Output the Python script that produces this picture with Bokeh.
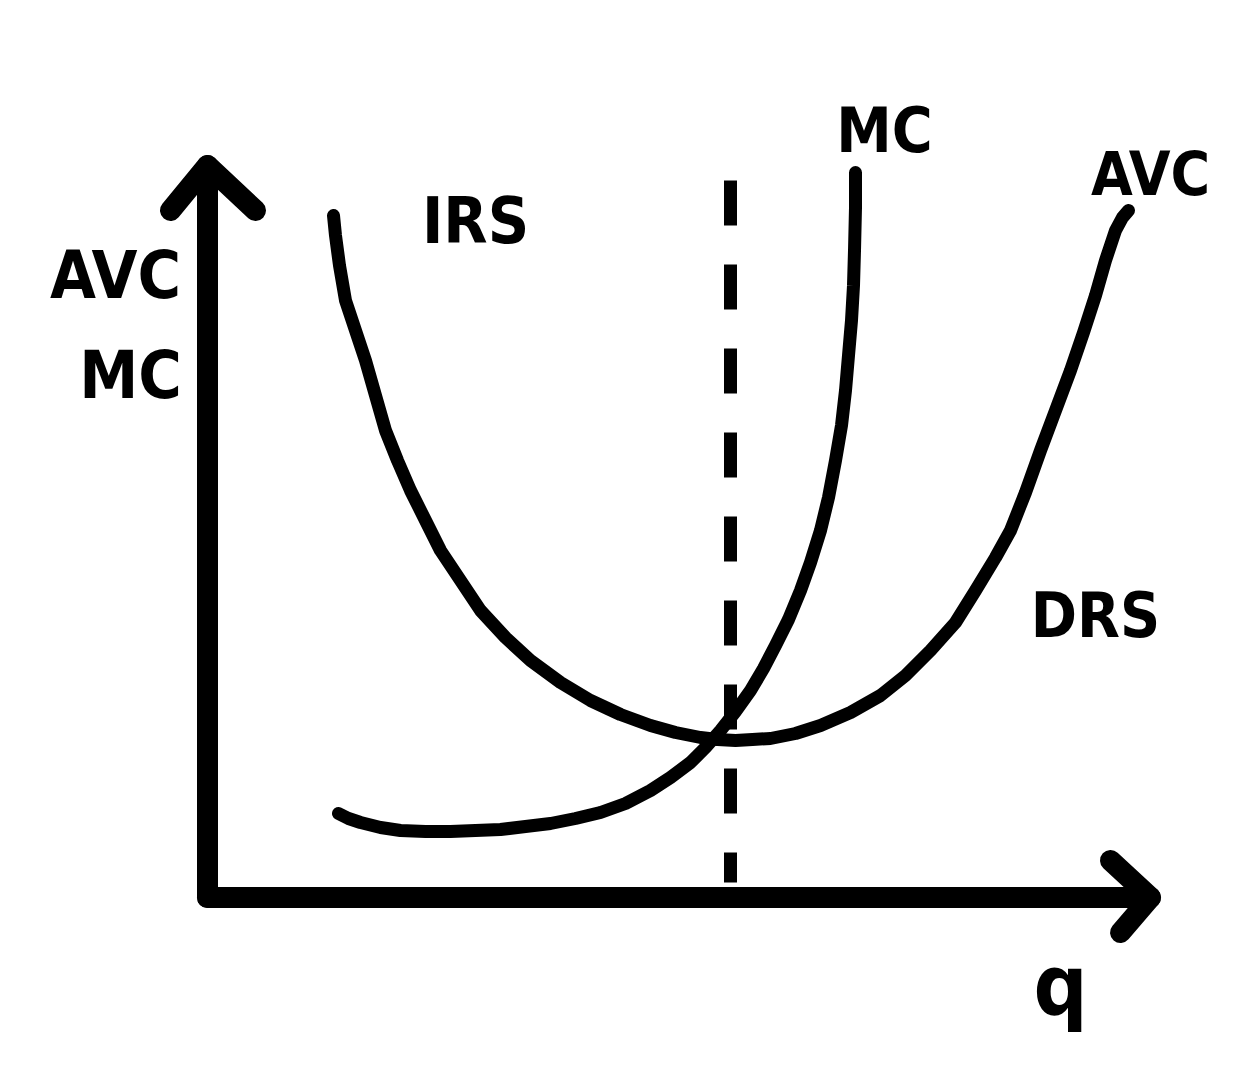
from bokeh.plotting import figure
from bokeh.models import Range1d
from bokeh.core.properties import value
from bokeh.embed import file_html
from bokeh.resources import INLINE

# ---- data (q, cost); origin at axes corner ----
avc_q = [126, 128, 132, 138, 148, 158, 168, 178, 190, 203, 218, 233, 253, 273, 298, 323, 353, 383, 413, 443, 468, 493, 510, 528, 545, 563, 588, 613, 643, 673, 698, 723, 748, 768, 788, 803, 818, 833, 848, 863, 876, 888, 898, 908, 915, 921]
avc_c = [682, 662, 632, 597, 567, 537, 502, 467, 437, 407, 377, 347, 317, 287, 260, 237, 215, 197, 183, 172, 165, 160, 158, 157, 158, 159, 164, 172, 185, 202, 222, 247, 275, 307, 340, 367, 405, 447, 487, 527, 565, 602, 637, 667, 680, 687]

mc_q = [131, 141, 153, 173, 193, 218, 243, 268, 293, 318, 343, 368, 393, 418, 443, 463, 483, 498, 513, 528, 543, 556, 568, 581, 593, 603, 613, 621, 628, 634, 638, 641, 644, 646, 647, 648, 648]
mc_c = [84, 79, 75, 70, 67, 66, 66, 67, 68, 71, 74, 79, 85, 94, 107, 120, 135, 150, 167, 186, 207, 229, 252, 278, 307, 335, 367, 400, 437, 472, 507, 542, 577, 612, 647, 690, 725]

q_star = 523          # output where MC crosses minimum AVC
axis_q_max = 943
axis_c_max = 732

labels = ["AVC", "MC", "IRS", "MC", "AVC", "DRS", "q"]

# ---- figure ----
W, H = 1244, 1055
p = figure(width=W, height=H, output_backend="svg", toolbar_location=None,
           x_range=Range1d(-207, W - 207), y_range=Range1d(-158, H - 158),
           min_border=0, outline_line_color=None)
p.axis.visible = False
p.grid.visible = False
p.background_fill_color = "white"
p.border_fill_color = "white"

ink = "black"
# axes with arrow heads
p.line([0, 0], [0, axis_c_max], line_width=21, color=ink, line_cap="round")
p.line([-37, 0, 48], [687, axis_c_max, 687], line_width=21, color=ink, line_cap="round", line_join="round")
p.line([0, axis_q_max], [0, 0], line_width=21, color=ink, line_cap="round")
p.line([903, axis_q_max, 913], [37, 0, -35], line_width=21, color=ink, line_cap="round", line_join="round")

# dashed vertical line at q* (drawn top to bottom)
p.line([q_star, q_star], [717, 15], line_width=13, color=ink, line_dash="45 39")

# curves
p.line(avc_q, avc_c, line_width=13, color=ink, line_cap="round", line_join="round")
p.line(mc_q, mc_c, line_width=13, color=ink, line_cap="round", line_join="round")

# labels
font = value("DejaVu Sans Condensed")
lx = [-92, -77, 268, 677, 943, 888, 853]
ly = [622, 522, 677, 767, 724, 282, -88]
sizes = ["66px", "66px", "64px", "62px", "60px", "62px", "84px"]
for t, x, y, s in zip(labels, lx, ly, sizes):
    p.text(x=[x], y=[y], text=[t], text_font=font, text_font_size=s,
           text_font_style="bold", text_color=ink, text_baseline="alphabetic",
           text_align="center")

open("out.html", "w").write(file_html(p, INLINE))
